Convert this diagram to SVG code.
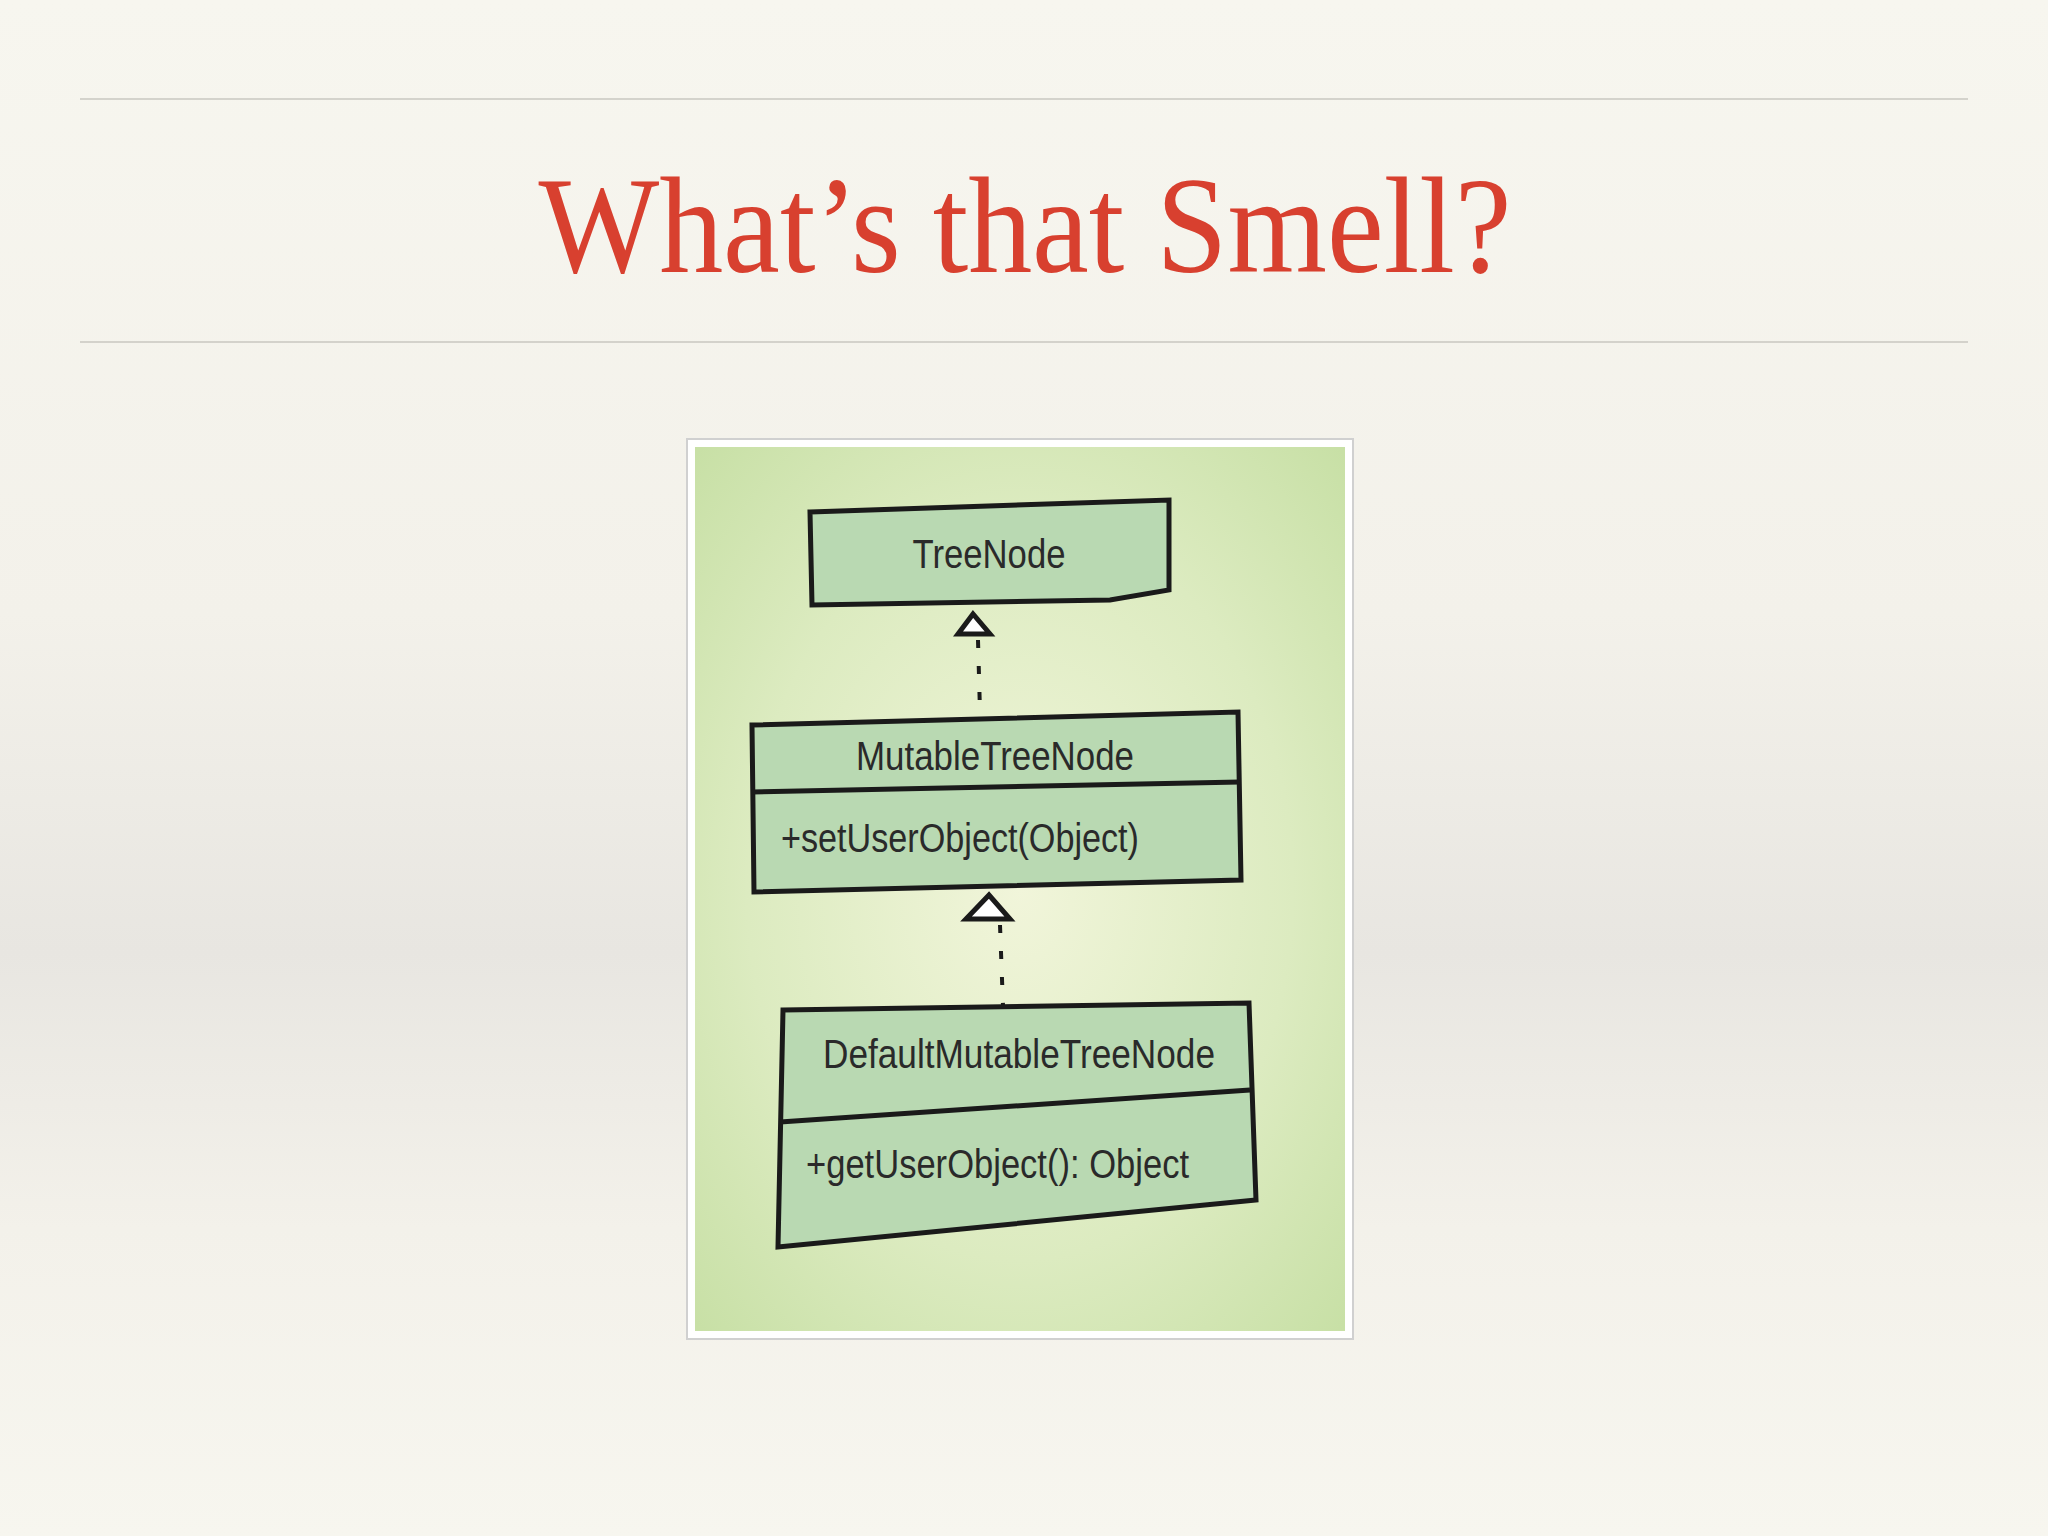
<svg xmlns="http://www.w3.org/2000/svg" width="2048" height="1536" viewBox="0 0 2048 1536">
<defs>
<linearGradient id="bg" x1="0" y1="0" x2="0" y2="1">
<stop offset="0" stop-color="#f7f6ef"/><stop offset="0.4" stop-color="#f3f1ea"/><stop offset="0.62" stop-color="#e8e6e1"/><stop offset="0.8" stop-color="#f3f1ea"/><stop offset="1" stop-color="#f7f6ef"/>
</linearGradient>
<radialGradient id="green" cx="0.5" cy="0.5" r="0.7">
<stop offset="0" stop-color="#f1f5da"/><stop offset="0.6" stop-color="#dcebc0"/><stop offset="1" stop-color="#c8e0a6"/>
</radialGradient>
<style>
.box{fill:#b9d9b2;stroke:#1a1a1a;stroke-width:5}
.div{stroke:#1a1a1a;stroke-width:5}
.lbl{font-family:"Liberation Sans Narrow","Liberation Sans",sans-serif;font-size:40px;fill:#2a2a2a}
.dash{stroke:#1a1a1a;stroke-width:4;stroke-dasharray:8 18;fill:none}
.tri{fill:#fff;stroke:#1a1a1a;stroke-width:5}
</style>
</defs>
<rect width="2048" height="1536" fill="url(#bg)"/>
<line x1="80" y1="99" x2="1968" y2="99" stroke="#c9c7c0" stroke-width="1.5"/>
<line x1="80" y1="342" x2="1968" y2="342" stroke="#c9c7c0" stroke-width="1.5"/>
<text x="1025" y="272" text-anchor="middle" font-family="Liberation Serif,serif" font-size="138" fill="#d8402f" textLength="973" lengthAdjust="spacingAndGlyphs">What’s that Smell?</text>
<rect x="687" y="439" width="666" height="900" fill="#fff" stroke="#d0d0d0" stroke-width="2"/>
<rect x="695" y="447" width="650" height="884" fill="url(#green)"/>
<g id="connectors">
<line class="dash" x1="978" y1="640" x2="980" y2="712"/>
<polygon class="tri" points="973,614 958,634 990,634"/>
<line class="dash" x1="1000" y1="925" x2="1003" y2="1006"/>
<polygon class="tri" points="989,895 966,919 1010,919"/>
</g>
<g id="TreeNode">
<polygon class="box" points="810,512 1169,500 1169,590 1110,600 812,605"/>
<text class="lbl" x="989" y="568" text-anchor="middle" textLength="153" lengthAdjust="spacingAndGlyphs">TreeNode</text>
</g>
<g id="MutableTreeNode">
<polygon class="box" points="752,725 1238,712 1241,880 754,892"/>
<line class="div" x1="752" y1="792" x2="1240" y2="782"/>
<text class="lbl" x="995" y="770" text-anchor="middle" textLength="278" lengthAdjust="spacingAndGlyphs">MutableTreeNode</text>
<text class="lbl" x="781" y="852" textLength="358" lengthAdjust="spacingAndGlyphs">+setUserObject(Object)</text>
</g>
<g id="DefaultMutableTreeNode">
<polygon class="box" points="783,1010 1249,1003 1256,1200 778,1247"/>
<line class="div" x1="780" y1="1122" x2="1250" y2="1090"/>
<text class="lbl" x="1019" y="1068" text-anchor="middle" textLength="392" lengthAdjust="spacingAndGlyphs">DefaultMutableTreeNode</text>
<text class="lbl" x="806" y="1178" textLength="383" lengthAdjust="spacingAndGlyphs">+getUserObject(): Object</text>
</g>
</svg>
